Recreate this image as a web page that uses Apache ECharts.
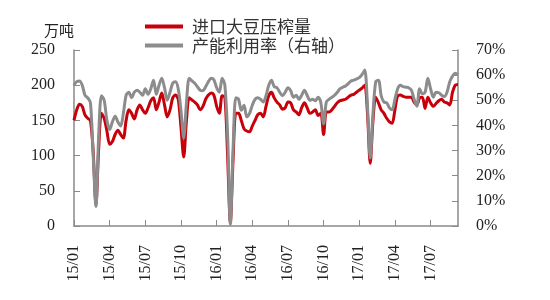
<!DOCTYPE html>
<html>
<head>
<meta charset="utf-8">
<script src="https://cdn.jsdelivr.net/npm/echarts@6/dist/echarts.min.js"></script>
<style>
  html, body { margin: 0; padding: 0; background: #fff; }
  #chart { width: 550px; height: 300px; }
</style>
</head>
<body>
<div id="chart"></div>
<script>
// quarter tick labels, one every 13 weeks
var tickLabels = ["15/01", "15/04", "15/07", "15/10", "16/01", "16/04", "16/07", "16/10", "17/01", "17/04", "17/07"];
var weeksPerQuarter = 13;

// 进口大豆压榨量, 万吨 (weekly)
var crushVolume = [
  150, 165, 173, 170, 158, 153, 150, 105, 30, 110,
  160, 153, 135, 116, 120, 130, 136, 130, 125, 150,
  165, 160, 152, 165, 172, 165, 160, 168, 178, 182,
  165, 176, 189, 172, 155, 165, 182, 186, 180, 140,
  98, 150, 182, 179, 176, 172, 165, 170, 180, 186,
  189, 186, 170, 160, 185, 183, 100, 5, 95, 160,
  160, 150, 138, 135, 134, 142, 150, 158, 160, 155,
  170, 185, 190, 182, 176, 172, 166, 168, 176, 175,
  165, 162, 158, 168, 175, 168, 160, 162, 165, 157,
  160, 130, 162, 162, 165, 170, 175, 178, 179, 180,
  183, 186, 187, 190, 193, 196, 200, 160, 89, 150,
  183, 175, 165, 160, 153, 148, 146, 165, 185, 186,
  184, 183, 183, 183, 176, 172, 182, 183, 167, 183,
  175, 170, 174, 178, 180, 176, 175, 172, 190, 200,
  201
];

// 产能利用率（右轴）, % (weekly)
var utilization = [
  56, 57.4, 57.7, 56, 52, 51, 49, 28, 7.8, 36,
  51.8, 50, 42, 38.4, 41.4, 43.7, 41.4, 39.8, 44.8, 52,
  53.2, 51, 53.2, 54, 53.2, 52, 54.6, 52.4, 54.6, 58,
  52.4, 56, 58.8, 55, 50, 53.2, 56.8, 57.4, 54.6, 46,
  35, 49, 58.8, 57.7, 56.8, 55.4, 54, 53.8, 55.4, 57.4,
  58.8, 58.2, 55, 53.2, 58.8, 56, 36.4, 0.6, 30.8, 51,
  50.4, 46, 48, 43.4, 44.8, 48, 50.4, 51, 50.4, 49.3,
  51.8, 56, 58, 55.4, 55, 53.2, 51.8, 53.2, 55, 53.8,
  51.2, 52, 50.4, 52, 54, 52, 50, 50.4, 49.8, 51.2,
  49, 40.6, 49.3, 50.4, 51.2, 52, 53.2, 54.6, 55.2, 55.7,
  56.6, 57.7, 58, 58.5, 59, 60.2, 62, 47.6, 27, 44.8,
  57.4, 58, 51.8, 49.3, 49, 47, 46.2, 50.4, 54.6, 56,
  55.4, 55.2, 55, 54, 50.4, 47.6, 54.6, 52.6, 53.2, 58.8,
  54.6, 51.2, 53.2, 53, 52, 51.5, 53.2, 57.4, 59.6, 60.8,
  60.2
];

// category per week; quarter label on the first week of each quarter
var weeks = crushVolume.map(function (v, i) {
  var q = Math.floor(i / weeksPerQuarter);
  return i % weeksPerQuarter === 0 ? tickLabels[q] : tickLabels[q] + "#" + (i % weeksPerQuarter);
});

var numFont = "Liberation Serif";
var cjkFont = "Noto Sans CJK SC";
var axisGray = "#8a8a8a";

var chart = echarts.init(document.getElementById("chart"));
chart.setOption({
  backgroundColor: "#ffffff",
  animation: false,
  legend: {
    orient: "vertical",
    left: 140,
    top: 13,
    itemWidth: 38,
    itemHeight: 4,
    itemGap: 2,
    icon: "rect",
    data: ["进口大豆压榨量", "产能利用率（右轴）"],
    textStyle: {
      fontFamily: cjkFont,
      fontSize: 17,
      lineHeight: 17,
      color: "#333",
      padding: [0, 0, 0, 4]
    }
  },
  grid: {
    left: 74,
    right: 92,
    top: 50,
    bottom: 74,
    containLabel: false
  },
  xAxis: {
    type: "category",
    boundaryGap: false,
    data: weeks,
    axisLine: { lineStyle: { color: axisGray, width: 1.5 } },
    axisTick: {
      inside: true,
      length: 6,
      interval: weeksPerQuarter - 1,
      lineStyle: { color: axisGray }
    },
    axisLabel: {
      interval: weeksPerQuarter - 1,
      rotate: 90,
      margin: 19,
      fontFamily: numFont,
      fontSize: 16,
      color: "#222",
      formatter: function (v) { return v.split("#")[0]; }
    },
    splitLine: { show: false }
  },
  yAxis: [
    {
      type: "value",
      name: "万吨",
      nameLocation: "end",
      nameGap: 12,
      nameTextStyle: {
        fontFamily: cjkFont,
        fontSize: 15,
        color: "#222",
        align: "right"
      },
      min: 0,
      max: 250,
      interval: 50,
      axisLine: { show: true, lineStyle: { color: axisGray, width: 1.5 } },
      axisTick: { show: true, inside: true, length: 6, lineStyle: { color: axisGray } },
      axisLabel: { margin: 19, fontFamily: numFont, fontSize: 16, color: "#222" },
      splitLine: { show: false }
    },
    {
      type: "value",
      min: 0,
      max: 70,
      interval: 10,
      position: "right",
      axisLine: { show: true, lineStyle: { color: axisGray, width: 1.5 } },
      axisTick: { show: true, inside: true, length: 6, lineStyle: { color: axisGray } },
      axisLabel: { margin: 18, fontFamily: numFont, fontSize: 16, color: "#222", formatter: "{value}%" },
      splitLine: { show: false }
    }
  ],
  series: [
    {
      name: "进口大豆压榨量",
      type: "line",
      yAxisIndex: 0,
      data: crushVolume,
      smooth: 0.3,
      showSymbol: false,
      itemStyle: { color: "#c8000a" },
      lineStyle: { color: "#c8000a", width: 3 }
    },
    {
      name: "产能利用率（右轴）",
      type: "line",
      yAxisIndex: 1,
      data: utilization,
      smooth: 0.3,
      showSymbol: false,
      itemStyle: { color: "#8c8c8c" },
      lineStyle: { color: "#8c8c8c", width: 3 }
    }
  ]
});
</script>
</body>
</html>
